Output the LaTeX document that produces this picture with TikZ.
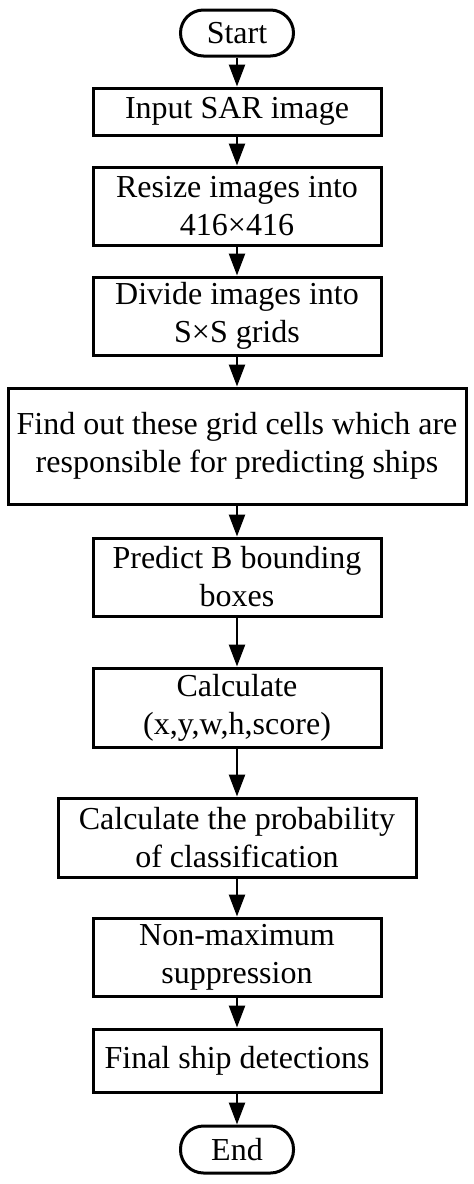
\documentclass[tikz,border=0pt]{standalone}
\usepackage{fontspec}
\setmainfont{Liberation Serif}
\usetikzlibrary{arrows.meta}
\tikzset{
  stepbox/.style={draw, line width=3pt, minimum width=288pt, inner sep=0pt, align=center},
  termbox/.style={draw, line width=3pt, rounded corners=23pt, minimum width=113pt, inner sep=0pt},
  flow/.style={line width=2.5pt, -{Triangle[length=22pt,width=16pt]}}
}
\begin{document}
\begin{tikzpicture}[x=1pt, y=-1pt, font=\fontsize{32}{38}\selectfont]
\useasboundingbox (0,0) rectangle (474,1184);
% Terminals and steps
\node[termbox, minimum height=46pt] (start) at (237,33) {Start};
\node[stepbox, minimum height=47pt] (input) at (237,111.5) {Input SAR image};
\node[stepbox, minimum height=78pt] (resize) at (237,206) {Resize images into\\416×416};
\node[stepbox, minimum height=78pt] (divide) at (237,316) {Divide images into\\S×S grids};
\node[stepbox, minimum width=458pt, minimum height=116pt] (find) at (237,446) {Find out these grid cells which are\\responsible for predicting ships};
\node[stepbox, minimum height=78pt] (predict) at (237,577) {Predict B bounding\\boxes};
\node[stepbox, minimum height=79pt] (calc) at (237,707.5) {Calculate\\(x,y,w,h,score)};
\node[stepbox, minimum width=358pt, minimum height=79pt] (prob) at (237,837.5) {Calculate the probability\\of classification};
\node[stepbox, minimum height=78pt] (nms) at (237,957) {Non-maximum\\suppression};
\node[stepbox, minimum height=63pt] (final) at (237,1060.5) {Final ship detections};
\node[termbox, minimum height=47pt] (end) at (237,1149.5) {End};

% Connectors
\foreach \a/\b in {start/input, input/resize, resize/divide, divide/find, find/predict,
  predict/calc, calc/prob, prob/nms, nms/final, final/end}
  \draw[flow] (\a) -- (\b);
\end{tikzpicture}
\end{document}
